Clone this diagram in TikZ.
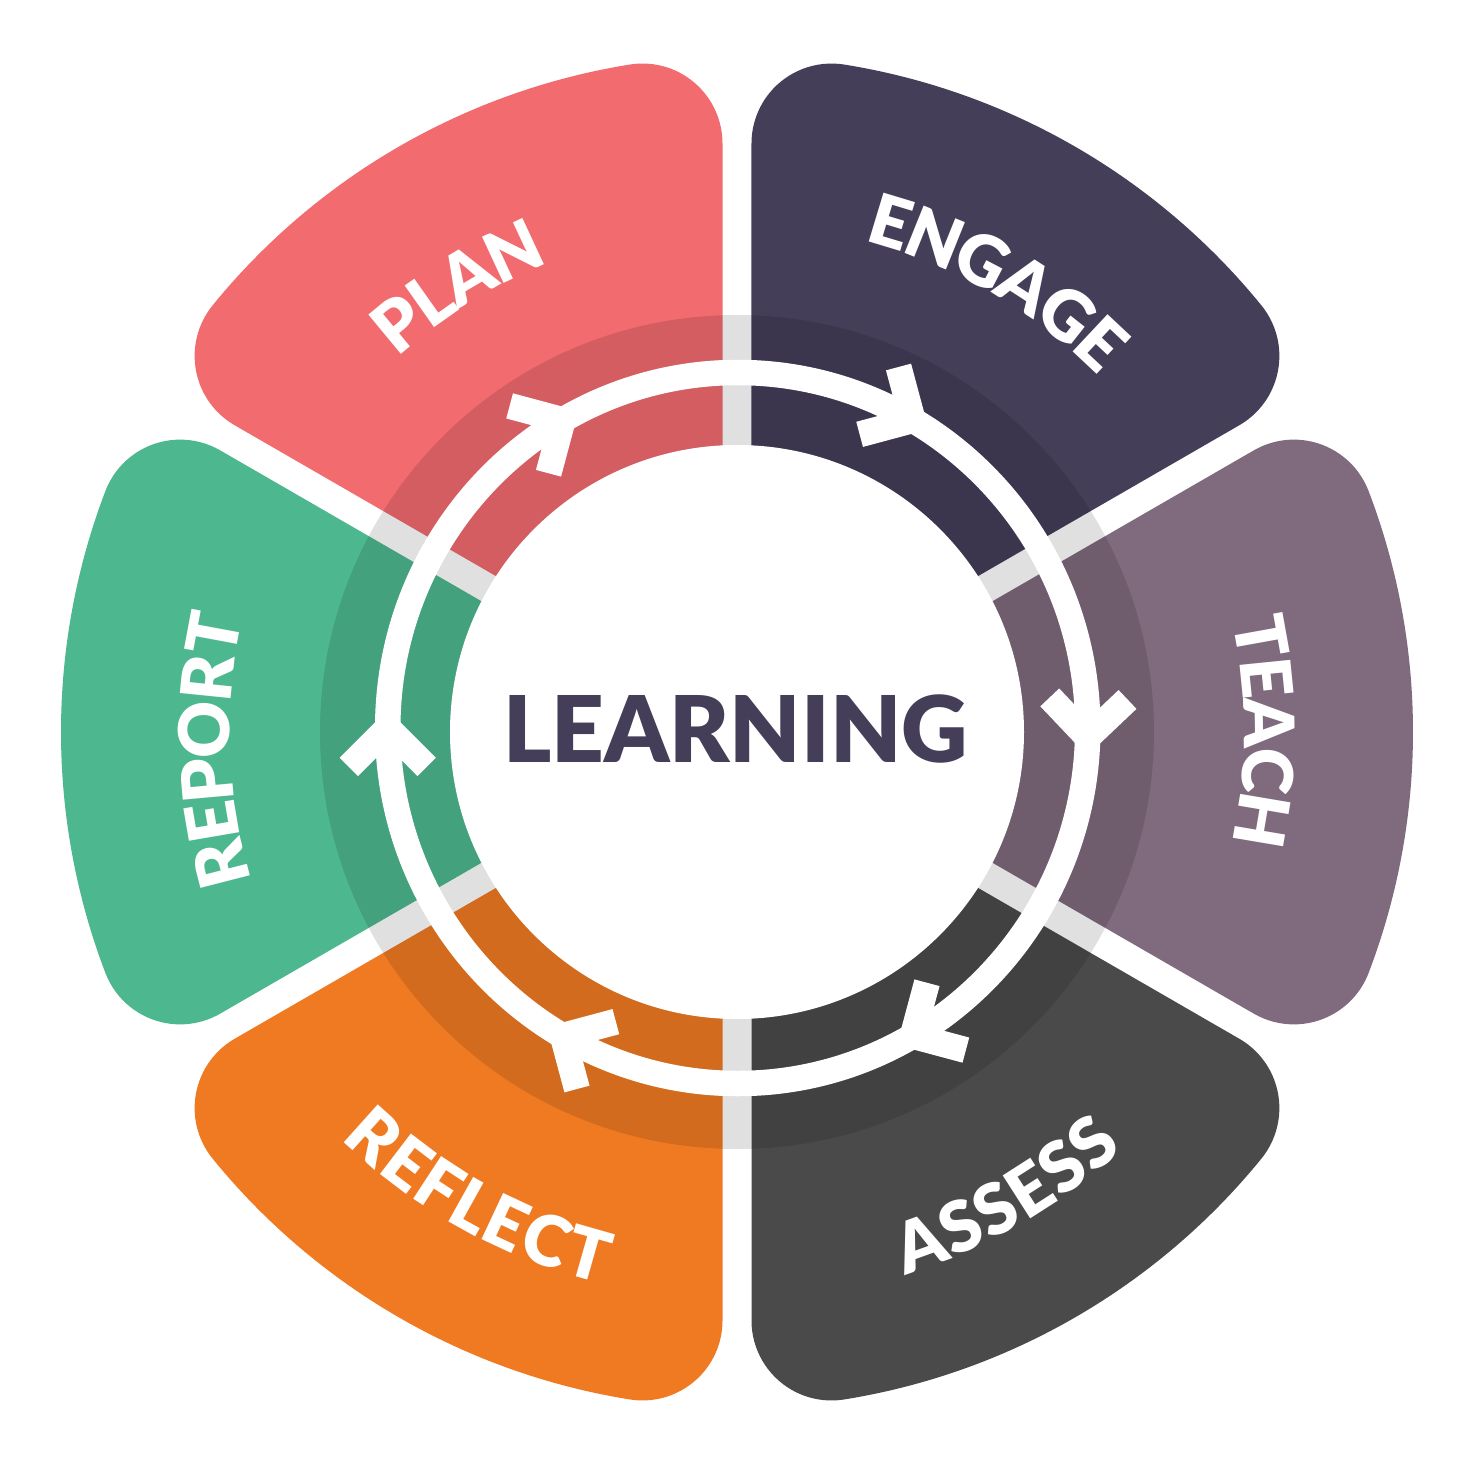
\documentclass[tikz,border=0pt]{standalone}
\usepackage{fontspec}
\setmainfont{Lato}
\IfFontExistsTF{Lato Black}{\newfontfamily\blackfont{Lato Black}}{\newcommand\blackfont{\bfseries}}
\usetikzlibrary{calc,decorations.text}
\definecolor{cplan}{HTML}{F16B6F}
\definecolor{cengage}{HTML}{443E59}
\definecolor{cteach}{HTML}{7F6A7E}
\definecolor{cassess}{HTML}{4A4A4A}
\definecolor{creflect}{HTML}{F07A22}
\definecolor{creport}{HTML}{4DB890}
\newcommand\segfont{\blackfont\fontsize{70}{80}\selectfont}
\tikzset{
  seglabel/.style={decorate, decoration={text along path, text align=center, text color=white, raise=-25pt}},
  chev/.style={draw=white, line width=26, line join=miter, line cap=butt},
  ringline/.style={draw=white, line width=25.5},
}
\begin{document}
\begin{tikzpicture}[x=1pt,y=1pt]
\useasboundingbox (-737,-733) rectangle (745,732);
\fill[white] (-737,-733) rectangle (745,732);
% segments
\foreach \m/\c in {120/cplan, 60/cengage, 0/cteach, -60/cassess, -120/creflect, 180/creport} {
  \fill[\c] (\m:29) -- ($(\m-30:588.46)+(\m+60:14.5)$)
    arc[start angle=\m-120, end angle=\m-30+9.123, radius=80]
    arc[start angle=\m-30+9.123, end angle=\m+30-9.123, radius=676]
    arc[start angle=\m+30-9.123, end angle=\m+120, radius=80] -- cycle;
}
% dark overlay ring
\fill[black, opacity=0.12] (0,0) circle[radius=417];
\fill[white] (0,0) circle[radius=287];
% cycle ring
\coordinate (rc) at (0.75,4);
\draw[ringline] (rc) ellipse[x radius=350, y radius=355.5];
% chevrons
\foreach \a [count=\i] in {120,60,-1.5,-60,-120,180} {
  \coordinate (v\i) at ($(rc)+({350*cos(\a)},{355.5*sin(\a)})$);
  \draw[chev] ($(v\i)+(\a+45:55)$) -- (v\i) -- ($(v\i)+(\a+135:55)$);
}
% labels
\path[seglabel, decoration={text={|\segfont|PLAN}}] (162:530) arc[start angle=162, end angle=82, radius=530];
\path[seglabel, decoration={text={|\segfont|ENGAGE}}] (100:532) arc[start angle=100, end angle=20, radius=532];
\path[seglabel, decoration={text={|\segfont|TEACH}}] (40:532) arc[start angle=40, end angle=-40, radius=532];
\path[seglabel, decoration={text={|\segfont|REPORT}}] (222:532) arc[start angle=222, end angle=142, radius=532];
\path[seglabel, decoration={text={|\segfont|REFLECT}}] (196:543) arc[start angle=196, end angle=286, radius=543];
\path[seglabel, decoration={text={|\segfont|ASSESS}}] (255:543) arc[start angle=255, end angle=345, radius=543];
\node[font=\blackfont\fontsize{92}{100}\selectfont, text=cengage, inner sep=0pt] (learning) at (-1.5,3) {LEARNING};
\end{tikzpicture}
\end{document}
